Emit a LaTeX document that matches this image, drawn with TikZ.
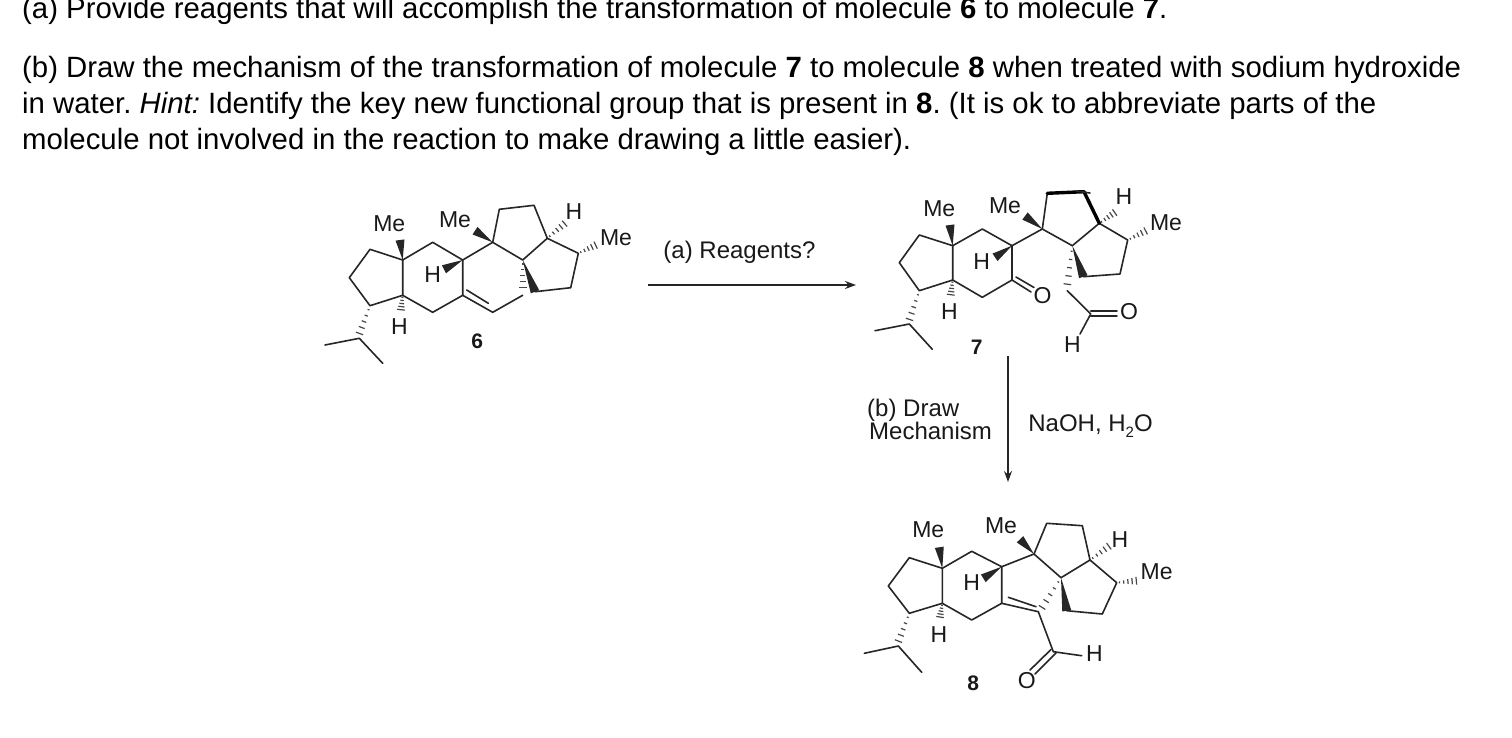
\documentclass[tikz,border=0pt]{standalone}
\usepackage{fontspec}
\setmainfont{Liberation Sans}
\usetikzlibrary{calc,arrows.meta}
\frenchspacing
\definecolor{ink}{gray}{0.1}
\definecolor{bondc}{gray}{0.15}
\tikzset{
  x=1pt,y=-1pt,
  bond/.style={draw=bondc,line width=1.6pt,line join=round,line cap=round},
  bold bond/.style={draw=black,line width=3.4pt,line cap=round,line join=round},
  atomlab/.style={inner sep=0pt,text=ink,font=\fontsize{23}{23}\selectfont},
  numlab/.style={inner sep=0pt,text=ink,font=\fontsize{21}{21}\selectfont\bfseries},
  body/.style={inner sep=0pt,anchor=base west,text=black,font=\fontsize{29.35}{29.35}\selectfont},
  cond/.style={inner sep=0pt,text=ink,font=\fontsize{24}{24}\selectfont},
  rxn/.style={draw=bondc,line width=1.4pt,-{Stealth[length=11pt,width=8pt]}}
}
\newcommand\wedgeb[2]{\fill[bondc] (#1) -- ($(#2)!4.5pt!90:(#1)$) -- ($(#2)!4.5pt!-90:(#1)$) -- cycle;}
\newcommand\hashb[2]{\foreach \t in {0.14,0.35,0.56,0.77,0.98}{
  \pgfmathsetmacro\w{0.5+3.4*\t}
  \coordinate (hh) at ($(#1)!\t!(#2)$);
  \draw[draw=bondc!85,line width=1.2pt] ($(hh)!\w pt!90:(#2)$) -- ($(hh)!\w pt!-90:(#2)$);}}
\begin{document}
\begin{tikzpicture}
\useasboundingbox (0,0) rectangle (1512,737);
\fill[white] (0,0) rectangle (1512,737);
% question text
\node[body] (l1) at (22,18) {(a) Provide reagents that will accomplish the transformation of molecule \textbf{6} to molecule \textbf{7}.};
\node[body] (l2) at (22,77) {(b) Draw the mechanism of the transformation of molecule \textbf{7} to molecule \textbf{8} when treated with sodium hydroxide};
\node[body] (l3) at (22,113) {in water. \textit{Hint:} Identify the key new functional group that is present in \textbf{8}. (It is ok to abbreviate parts of the};
\node[body] (l4) at (22,149) {molecule not involved in the reaction to make drawing a little easier).};
% molecule 6
\foreach \n/\c in {1/{370,249.3},2/{349.3,277.7},3/{370,305.7},4/{402.7,295.3},5/{402.7,260},6/{432.7,242.3},7/{462.7,260},8/{462.7,295.3},9/{432.7,312.3},10/{492.7,312.3},11/{522.7,295.3},12/{522.7,260},13/{492.7,242.3},14/{499.3,209.3},15/{534,205.3},16/{547.3,238.3},17/{578.3,253.3},18/{570.7,287.7},19/{535,291.7}}{\coordinate (p\n) at (\c);}
\draw[bond] (p5)--(p1)--(p2)--(p3)--(p4)--(p5)--(p6)--(p7)--(p8)--(p9)--(p4);
\draw[bond] (p7)--(p13)--(p14)--(p15)--(p16)--(p12)--(p13);
\draw[bond] (p16)--(p17)--(p18)--(p19);
\draw[bond] (p8)--(p10)--(p11);
\draw[bond] (466.7,290)--(488.3,303.3);
\coordinate (pme1) at (400,240); \coordinate (pme2) at (475,230.7); \coordinate (phw) at (444,269.3);
\wedgeb{p5}{pme1} \wedgeb{p13}{pme2} \wedgeb{p7}{phw} \wedgeb{p12}{p19}
\coordinate (ph1) at (522.7,288); \coordinate (ph2) at (401,310); \coordinate (ph3) at (359.3,334);
\coordinate (ph4) at (565,223.3); \coordinate (ph5) at (596,245);
\hashb{p12}{ph1} \hashb{p4}{ph2} \hashb{p3}{ph3} \hashb{p16}{ph4} \hashb{p17}{ph5}
\coordinate (pi0) at (359.3,338.3); \coordinate (pi1) at (325,345); \coordinate (pi2) at (382.7,363.3);
\draw[bond] (pi1)--(pi0)--(pi2);
\node[atomlab] (p6me1) at (389.3,223.3) {Me};
\node[atomlab] (p6me2) at (455,220) {Me};
\node[atomlab] (p6h1) at (432.7,275) {H};
\node[atomlab] (p6h2) at (399.3,326.7) {H};
\node[atomlab] (p6h3) at (574,211.7) {H};
\node[atomlab] (p6me3) at (616,237.7) {Me};
\node[numlab] (n6) at (477.3,341.7) {6};
% arrow a
\coordinate (arA1) at (648,285); \coordinate (arA2) at (856,285);
\draw[rxn] (arA1) -- (arA2);
\node[cond] (rga) at (739.5,252) {(a) Reagents?};
% molecule 7
\foreach \n/\c in {1/{919.3,235},2/{899.3,262.7},3/{919.3,290.7},4/{952.7,280},5/{952.7,245.7},6/{982.3,229},7/{1012,245.7},8/{1012,280},9/{982.3,297.3},12/{1072.3,245.7},13/{1042.3,229},14/{1047.3,193.3},15/{1084,191.7},16/{1099.3,223.3},17/{1127.7,240},18/{1120,274},19/{1083.3,276.7}}{\coordinate (q\n) at (\c);}
\draw[bond] (q5)--(q1)--(q2)--(q3)--(q4)--(q5)--(q6)--(q7)--(q8)--(q9)--(q4);
\draw[bond] (q7)--(q13)--(q14);
\draw[bond] (q13)--(q12)--(q16)--(q17)--(q18)--(q19);
\draw[bold bond] (q14)--(q15)--(q16);
\draw[bond] (1076,191)--(1090,193);
\draw[bond] (1012,280)--(1031,292);
\draw[bond] (1016,277)--(1034,287.5);
\coordinate (qme1) at (950,225); \coordinate (qme2) at (1025,216); \coordinate (qhw) at (995,257.3);
\wedgeb{q5}{qme1} \wedgeb{q13}{qme2} \wedgeb{q7}{qhw} \wedgeb{q12}{q19}
\coordinate (qh1) at (1067.3,285); \coordinate (qh2) at (950.7,295); \coordinate (qh3) at (909.3,320);
\coordinate (qh4) at (1115,212.3); \coordinate (qh5) at (1146,230.7);
\hashb{q12}{qh1} \hashb{q4}{qh2} \hashb{q3}{qh3} \hashb{q16}{qh4} \hashb{q17}{qh5}
\coordinate (qi0) at (909.3,324); \coordinate (qi1) at (875,330.7); \coordinate (qi2) at (932.3,349.3);
\draw[bond] (qi1)--(qi0)--(qi2);
\coordinate (qc0) at (1067.3,290.7); \coordinate (qc1) at (1090.7,314); \coordinate (qc2) at (1080,334);
\draw[bond] (qc0)--(qc1)--(qc2);
\draw[bond] (1090.7,311)--(1117,311);
\draw[bond] (1090.7,316)--(1117,316);
\node[atomlab] (q7me1) at (939.3,208.3) {Me};
\node[atomlab] (q7me2) at (1005,206) {Me};
\node[atomlab] (q7h1) at (981.7,261.7) {H};
\node[atomlab] (q7h2) at (949.3,311.7) {H};
\node[atomlab] (q7h3) at (1124,196.7) {H};
\node[atomlab] (q7me3) at (1166,222.7) {Me};
\node[atomlab] (q7o1) at (1042.5,295.5) {O};
\node[atomlab] (q7o2) at (1129,312) {O};
\node[atomlab] (q7h4) at (1072.3,344.3) {H};
\node[numlab] (n7) at (976.7,347.7) {7};
% arrow b
\coordinate (arB1) at (1008,356); \coordinate (arB2) at (1008,482);
\draw[rxn] (arB1) -- (arB2);
\node[cond,anchor=base west] (rgb1) at (867,416) {(b) Draw};
\node[cond,anchor=base west] (rgb2) at (869,439) {Mechanism};
\node[cond] (rgc) at (1090.5,426) {NaOH, H\raisebox{-0.25em}{\fontsize{15}{15}\selectfont 2}O};
% molecule 8
\foreach \n/\c in {1/{909.3,557.7},2/{888.3,586},3/{909.3,613.3},4/{942.3,603.3},5/{942.3,568.3},6/{971.7,551.3},7/{1001.7,566.7},8/{1001.7,603.3},9/{971.7,620},10/{1038.3,611.7},12/{1061,577.7},13/{1034,554},14/{1046.7,523.3},15/{1082.3,525.7},16/{1090,560},17/{1116.7,582.7},18/{1102.3,614},19/{1066.7,610.7}}{\coordinate (r\n) at (\c);}
\draw[bond] (r5)--(r1)--(r2)--(r3)--(r4)--(r5)--(r6)--(r7)--(r8)--(r9)--(r4);
\draw[bond] (r7)--(r13)--(r14)--(r15)--(r16)--(r12)--(r13);
\draw[bond] (r16)--(r17)--(r18)--(r19);
\draw[bond] (r8)--(r10);
\draw[bond] (1008.3,597.3)--(1036,606.7);
\coordinate (rme1) at (939.3,547.3); \coordinate (rme2) at (1020,539.3); \coordinate (rhw) at (983.3,578.3);
\wedgeb{r5}{rme1} \wedgeb{r13}{rme2} \wedgeb{r7}{rhw} \wedgeb{r12}{r19}
\coordinate (rh1) at (1041.7,608); \coordinate (rh2) at (940,617.3); \coordinate (rh3) at (898.3,641.7);
\coordinate (rh4) at (1109.3,546); \coordinate (rh5) at (1136.7,580.7);
\hashb{r12}{rh1} \hashb{r4}{rh2} \hashb{r3}{rh3} \hashb{r16}{rh4} \hashb{r17}{rh5}
\coordinate (ri0) at (898.3,646); \coordinate (ri1) at (864.3,653.3); \coordinate (ri2) at (921.7,672.3);
\draw[bond] (ri1)--(ri0)--(ri2);
\coordinate (rc1) at (1053.3,651.7); \coordinate (rc2) at (1081.7,655.7);
\draw[bond] (r10)--(rc1)--(rc2);
\draw[bond] (1051,649.5)--(1030,670);
\draw[bond] (1056,653)--(1035,674);
\node[atomlab] (r8me1) at (928.3,530) {Me};
\node[atomlab] (r8me2) at (1001,526) {Me};
\node[atomlab] (r8h1) at (971.7,582.7) {H};
\node[atomlab] (r8h2) at (939,635) {H};
\node[atomlab] (r8h3) at (1120,540) {H};
\node[atomlab] (r8me3) at (1156.7,571.7) {Me};
\node[atomlab] (r8h4) at (1094.3,654) {H};
\node[atomlab] (r8o) at (1026.7,680.7) {O};
\node[numlab] (n8) at (973.3,683.3) {8};
\end{tikzpicture}
\end{document}
